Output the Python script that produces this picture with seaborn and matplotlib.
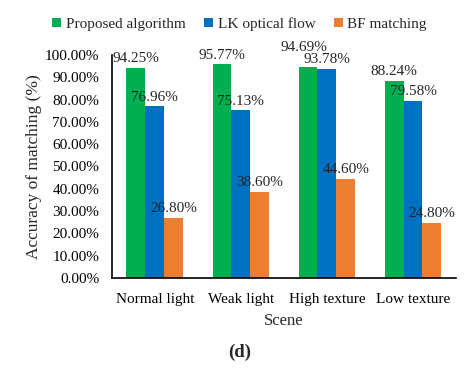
import matplotlib
matplotlib.use("Agg")
import matplotlib.pyplot as plt
import seaborn as sns
import pandas as pd
from matplotlib.ticker import FuncFormatter

scenes = ["Normal light", "Weak light", "High texture", "Low texture"]
methods = ["Proposed algorithm", "LK optical flow", "BF matching"]
proposed = [94.25, 95.77, 94.69, 88.24]
lk_flow = [76.96, 75.13, 93.78, 79.58]
bf_match = [26.80, 38.60, 44.60, 24.80]
colors = ["#00B050", "#0070C0", "#ED7D31"]

rows = []
for m, vals in zip(methods, [proposed, lk_flow, bf_match]):
    for s, v in zip(scenes, vals):
        rows.append({"Scene": s, "Method": m, "Accuracy": v})
df = pd.DataFrame(rows)

sns.set_style("white")
plt.rcParams["font.family"] = ["Liberation Serif", "DejaVu Serif"]
plt.rcParams["font.size"] = 11

fig = plt.figure(figsize=(4.74, 3.79), dpi=100)
ax = fig.add_axes([0.236, 0.2665, 0.726, 0.5885])

sns.barplot(data=df, x="Scene", y="Accuracy", hue="Method",
            hue_order=methods, palette=colors, width=0.66, gap=0,
            saturation=1, linewidth=0, ax=ax, legend=True)

# value labels above bars; the High texture green label is lifted so it clears its neighbour
for i, cont in enumerate(ax.containers):
    labels = [f"{v:.2f}%" for v in cont.datavalues]
    if i == 0:
        labels[2] = ""
    ax.bar_label(cont, labels=labels, padding=2, fontsize=11)
    if i == 0:
        bar = cont[2]
        ax.annotate(f"{cont.datavalues[2]:.2f}%",
                    (bar.get_x() + bar.get_width() / 2, bar.get_height()),
                    xytext=(-3, 9), textcoords="offset points",
                    ha="center", va="bottom", fontsize=11)

ax.set_ylim(0, 100)
ax.set_xlim(-0.5, 3.5)
ax.set_yticks(range(0, 101, 10))
ax.yaxis.set_major_formatter(FuncFormatter(lambda v, p: f"{v:.2f}%"))
ax.set_xticks([3.5], minor=True)
ax.tick_params(axis="both", direction="in", length=4, width=1, colors="black",
               labelsize=11, which="both")
ax.tick_params(axis="y", pad=9)
ax.tick_params(axis="x", pad=11)
ax.set_ylabel("Accuracy of matching (%)", fontsize=12.5, labelpad=2)
ax.set_xlabel("Scene", fontsize=12, labelpad=5)

sns.despine(ax=ax)
for sp in ["left", "bottom"]:
    ax.spines[sp].set_color("black")
    ax.spines[sp].set_linewidth(1.2)

handles, labels = ax.get_legend_handles_labels()
ax.get_legend().remove()
fig.legend(handles, labels, loc="center", bbox_to_anchor=(0.505, 0.937), ncol=3,
           frameon=False, handlelength=0.6, handleheight=0.6,
           handletextpad=0.3, columnspacing=1.2, fontsize=11)

fig.text(0.505, 0.07, "(d)", ha="center", va="center", fontsize=13.5,
         fontweight="bold")

fig.savefig("out.png", dpi=100)
